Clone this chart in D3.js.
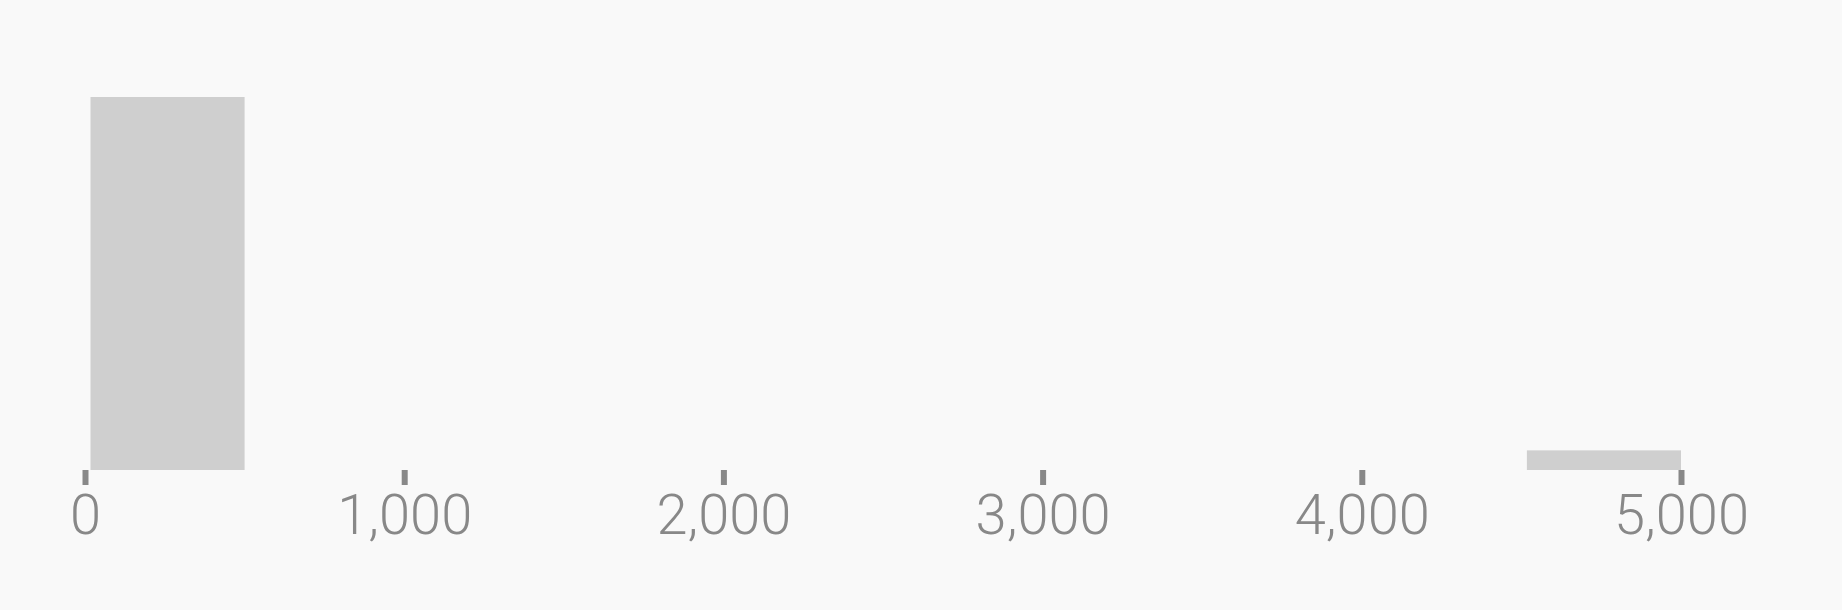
<!DOCTYPE html>
<html>
<head>
<meta charset="utf-8">
<script src="https://cdn.jsdelivr.net/npm/d3@7"></script>
<style>
  html, body { margin: 0; padding: 0; background: #f9f9f9; }
  svg { display: block; }
</style>
</head>
<body>
<svg id="chart"></svg>
<script>
// Histogram bins (lower edge of each 500-wide bin) and their counts
const binStarts = [0, 500, 1000, 1500, 2000, 2500, 3000, 3500, 4000, 4500];
const binWidth = 500;
const counts = [19, 0, 0, 0, 0, 0, 0, 0, 0, 1];
const tickValues = [0, 1000, 2000, 3000, 4000, 5000];

const width = 1842;
const height = 610;
const margin = {top: 97, right: 161, bottom: 140, left: 85};

const svg = d3.select('#chart')
  .attr('width', width)
  .attr('height', height);

const x = d3.scaleLinear()
  .domain([0, 5000])
  .range([margin.left, width - margin.right]);

const y = d3.scaleLinear()
  .domain([0, d3.max(counts)])
  .range([height - margin.bottom, margin.top]);

// Bars (small gap on the left of each bin)
const insetLeft = 5.5;
svg.append('g')
  .attr('fill', '#cfcfcf')
  .selectAll('rect')
  .data(binStarts.map((b, i) => ({x0: b, x1: b + binWidth, n: counts[i]})).filter(d => d.n > 0))
  .join('rect')
  .attr('x', d => x(d.x0) + insetLeft)
  .attr('width', d => x(d.x1) - x(d.x0) - insetLeft)
  .attr('y', d => y(d.n))
  .attr('height', d => y(0) - y(d.n));

// X axis
const axis = svg.append('g')
  .attr('transform', `translate(0,${height - margin.bottom})`)
  .call(d3.axisBottom(x)
    .tickValues(tickValues)
    .tickFormat(d3.format(','))
    .tickSize(15)
    .tickPadding(9)
    .tickSizeOuter(0));

axis.select('.domain').remove();
axis.selectAll('.tick line')
  .attr('stroke', '#888')
  .attr('stroke-width', 6);
axis.selectAll('.tick text')
  .attr('fill', '#888')
  .attr('font-family', 'Roboto, sans-serif')
  .attr('font-weight', 300)
  .attr('font-size', 56);
</script>
</body>
</html>
